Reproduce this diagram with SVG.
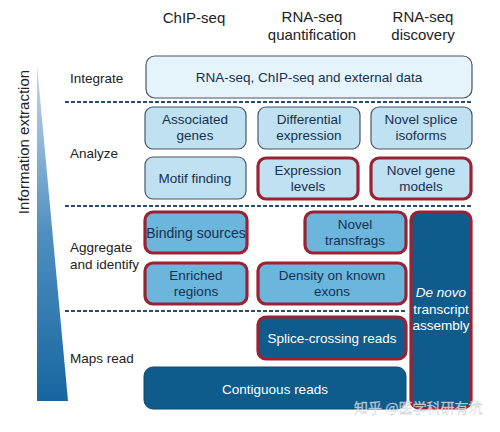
<svg xmlns="http://www.w3.org/2000/svg" width="500" height="432" viewBox="0 0 500 432">
<defs>
<linearGradient id="tri" x1="0" y1="0" x2="0" y2="1">
<stop offset="0" stop-color="#c6d8ec"/>
<stop offset="0.5" stop-color="#4f8fc0"/>
<stop offset="1" stop-color="#1766a0"/>
</linearGradient>
<style>
text{font-family:"Liberation Sans",Arial,sans-serif;font-size:13.5px;fill:#1c1c1c}
.hdr{font-size:15px;text-anchor:middle;fill:#222}
.lbl{font-size:13.5px;fill:#222}
.rot{font-size:15px;fill:#222;text-anchor:middle}
.bt{text-anchor:middle;fill:#163050}
.wt{text-anchor:middle;fill:#ffffff}
.wm{font-family:"Noto Sans CJK SC",sans-serif;font-size:14px;fill:#ffffff;fill-opacity:0.7;stroke:#b8c2ca;stroke-width:0.3}
.dash{stroke:#2a4f6e;stroke-width:2;stroke-dasharray:4 2;fill:none}
.pale{fill:#e5f3fb;stroke:#4a5560;stroke-width:1.2}
.light{fill:#c0e1f2;stroke:#4a5560;stroke-width:1.2}
.lightr{fill:#c0e1f2;stroke:#9a2233;stroke-width:3.2}
.medr{fill:#6cb5dc;stroke:#9a2233;stroke-width:3.2}
.darkr{fill:#0f5b8c;stroke:#9a2233;stroke-width:3.2}
.dark{fill:#0f5b8c;stroke:#0c4a72;stroke-width:1}
</style>
</defs>
<rect width="500" height="432" fill="#ffffff"/>
<g id="headers">
<text class="hdr" x="194" y="23">ChIP-seq</text>
<text class="hdr" x="312" y="22">RNA-seq</text>
<text class="hdr" x="312" y="40">quantification</text>
<text class="hdr" x="423" y="22">RNA-seq</text>
<text class="hdr" x="423" y="40">discovery</text>
</g>
<g id="axis">
<polygon points="37,65 68,401 37,401" fill="url(#tri)"/>
<text class="rot" transform="translate(29,142) rotate(-90)">Information extraction</text>
</g>
<g id="row-labels">
<text class="lbl" x="70" y="83">Integrate</text>
<text class="lbl" x="70" y="158">Analyze</text>
<text class="lbl" x="70" y="252">Aggregate</text>
<text class="lbl" x="70" y="269">and identify</text>
<text class="lbl" x="70" y="363">Maps read</text>
</g>
<g id="connectors">
<line class="dash" x1="65" y1="102" x2="472" y2="102"/>
<line class="dash" x1="65" y1="206" x2="472" y2="206"/>
<line class="dash" x1="65" y1="311" x2="406" y2="311"/>
</g>
<g id="integrate">
<rect class="pale" x="146" y="56" width="326" height="42" rx="9"/>
<text class="bt" x="309" y="82">RNA-seq, ChIP-seq and external data</text>
</g>
<g id="associated-genes">
<rect class="light" x="145" y="107" width="101" height="42" rx="8"/>
<text class="bt" x="195" y="124">Associated</text>
<text class="bt" x="195" y="140">genes</text>
</g>
<g id="differential-expression">
<rect class="light" x="258" y="107" width="102" height="42" rx="8"/>
<text class="bt" x="309" y="124">Differential</text>
<text class="bt" x="309" y="140">expression</text>
</g>
<g id="novel-splice-isoforms">
<rect class="light" x="371" y="107" width="101" height="42" rx="8"/>
<text class="bt" x="421" y="124">Novel splice</text>
<text class="bt" x="421" y="140">isoforms</text>
</g>
<g id="motif-finding">
<rect class="light" x="145" y="157" width="101" height="42" rx="8"/>
<text class="bt" x="195" y="183">Motif finding</text>
</g>
<g id="expression-levels">
<rect class="lightr" x="258" y="158" width="100" height="41" rx="8"/>
<text class="bt" x="308" y="175">Expression</text>
<text class="bt" x="308" y="191">levels</text>
</g>
<g id="novel-gene-models">
<rect class="lightr" x="371" y="158" width="100" height="41" rx="8"/>
<text class="bt" x="421" y="175">Novel gene</text>
<text class="bt" x="421" y="191">models</text>
</g>
<g id="binding-sources">
<rect class="medr" x="145" y="212" width="102" height="41" rx="8"/>
<text class="bt" x="196" y="238" style="font-size:14px">Binding sources</text>
</g>
<g id="novel-transfrags">
<rect class="medr" x="305" y="212" width="101" height="41" rx="8"/>
<text class="bt" x="355" y="229">Novel</text>
<text class="bt" x="355" y="245">transfrags</text>
</g>
<g id="enriched-regions">
<rect class="medr" x="145" y="263" width="102" height="41" rx="8"/>
<text class="bt" x="196" y="280">Enriched</text>
<text class="bt" x="196" y="296">regions</text>
</g>
<g id="density-on-known-exons">
<rect class="medr" x="258" y="263" width="148" height="41" rx="8"/>
<text class="bt" x="332" y="280">Density on known</text>
<text class="bt" x="332" y="296">exons</text>
</g>
<g id="de-novo">
<rect class="darkr" x="411" y="212" width="60" height="196" rx="8"/>
<text class="wt" x="441" y="297" font-style="italic">De novo</text>
<text class="wt" x="441" y="314">transcript</text>
<text class="wt" x="441" y="330">assembly</text>
</g>
<g id="splice-crossing-reads">
<rect class="darkr" x="258" y="317" width="148" height="42" rx="8"/>
<text class="wt" x="332" y="343">Splice-crossing reads</text>
</g>
<g id="contiguous-reads">
<rect class="dark" x="144" y="367" width="262" height="42" rx="9"/>
<text class="wt" x="275" y="394">Contiguous reads</text>
</g>
<g id="watermark">
<text class="wm" x="354" y="413">知乎 @医学科研有坑</text>
</g>
</svg>
